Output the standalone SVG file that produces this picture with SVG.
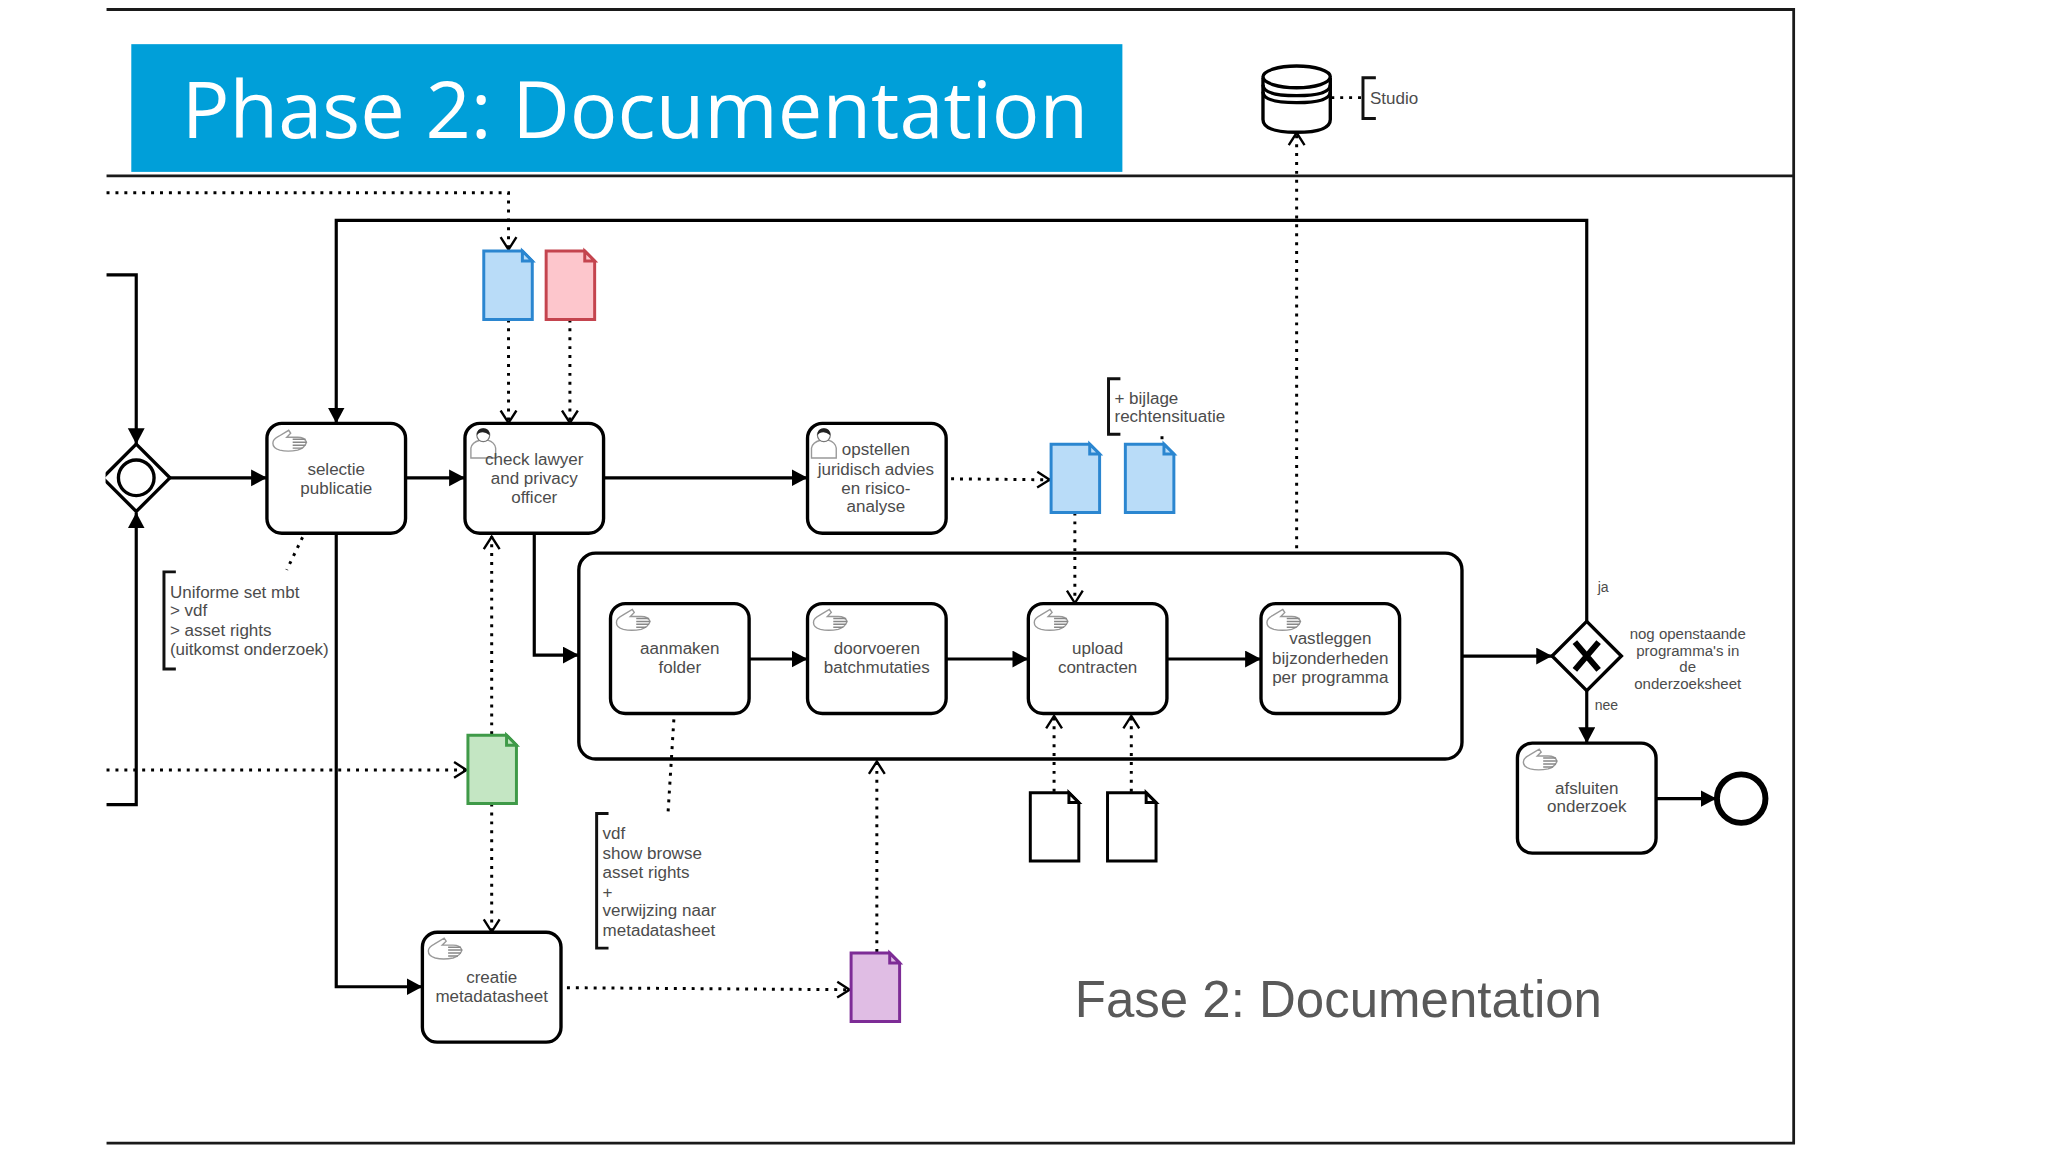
<svg xmlns="http://www.w3.org/2000/svg" width="2048" height="1152" viewBox="0 0 2048 1152">
<style>
text{font-family:"Liberation Sans",Arial,sans-serif;font-size:17.2px;fill:#4c4c4c}
.c{text-anchor:middle}
.task{fill:#fff;stroke:#000;stroke-width:3.4}
.flow{fill:none;stroke:#000;stroke-width:3.2;marker-end:url(#solid)}
.dot{fill:none;stroke:#000;stroke-width:3;stroke-dasharray:3 6}
.open{marker-end:url(#open)}
.frame{fill:none;stroke:#1a1a1a;stroke-width:2.8}
.br{fill:none;stroke:#111;stroke-width:3}
.ico{fill:#fff;stroke:#999;stroke-width:1.4}
.doc{stroke-width:3}
.blue{fill:#b9dcf8;stroke:#2b86d0}
.red{fill:#fdc6cc;stroke:#c4444e}
.green{fill:#c4e6c3;stroke:#3f9a48}
.white{fill:#fff;stroke:#000}
.purple{fill:#e0bde4;stroke:#7d2c96}
.small{font-size:14.2px}
.gw{font-size:15.2px}
</style>
<defs>
<marker id="solid" markerUnits="userSpaceOnUse" markerWidth="18" markerHeight="18" refX="16" refY="8.500" orient="auto"><path d="M0 0L16 8.500L0 17Z" fill="#000"/></marker>
<marker id="open" markerUnits="userSpaceOnUse" markerWidth="18" markerHeight="20" refX="14" refY="9.500" orient="auto"><path d="M1 1.500L13.500 9.500L1 17.500" fill="none" stroke="#000" stroke-width="2.400"/></marker>
<g id="hand"><path class="ico" d="M1 14Q1 10 7 7L17 1L19 4L15 8H26Q33 8 35 13Q33 19 26 21Q16 23 8 21Q1 19 1 14Z"/><path d="M21 10H34M21 13H35M21 16H34M21 19H31" stroke="#888" stroke-width="1.500"/></g>
<g id="person"><path class="ico" d="M1 31V21Q2 15 10 13H18Q25 15 26 21V31Z"/><circle cx="13.500" cy="8" r="6.500" fill="#fff" stroke="#777" stroke-width="1.200"/><path d="M7 8Q7 1 13.500 1Q20 1 20 8Q16 5 13 5Q9 5 7 8Z" fill="#222"/></g>
<g id="d"><path d="M1 1H40L50 11V70H1Z"/><path d="M40 1V11H50Z"/></g>
</defs>

<g id="diagram" transform="translate(.6 .6) scale(.9901)">
<g id="frame">
<path class="frame" d="M107 9H1811V1154H107"/>
<path class="frame" d="M107 177H1811"/>
</g>

<g id="title">
<rect x="132" y="44" width="1001" height="129" fill="#009fd9"/>
<text x="183" y="139" style="font-family:'Open Sans','Noto Sans',sans-serif;font-size:80.2px;fill:#fff">Phase 2: Documentation</text>
</g>

<g id="subprocess"><rect class="task" x="584" y="558" width="892" height="208" rx="17"/></g>

<g id="connectors">
<path class="flow" d="M1602 627V222H339V427"/>
<path class="flow" d="M107 277H137V448"/>
<path class="flow" d="M107 812H137V517"/>
<path class="flow" d="M171 482H269"/>
<path class="flow" d="M409 482H469"/>
<path class="flow" d="M609 482H815"/>
<path class="flow" d="M539 538V661H584"/>
<path class="flow" d="M339 538V996H426"/>
<path class="flow" d="M756 665H815"/>
<path class="flow" d="M955 665H1038"/>
<path class="flow" d="M1178 665H1273"/>
<path class="flow" d="M1476 662H1567"/>
<path class="flow" d="M1602 697V750"/>
<path class="flow" d="M1672 806H1733"/>
<path class="dot open" d="M107 194H513V252"/>
<path class="dot open" d="M513 322V427"/>
<path class="dot open" d="M575 322V427"/>
<path class="dot open" d="M496 741V541"/>
<path class="dot open" d="M496 811V941"/>
<path class="dot open" d="M107 777H471"/>
<path class="dot open" d="M960 483L1060 484"/>
<path class="dot open" d="M1085 517V609"/>
<path class="dot open" d="M1064 799V722"/>
<path class="dot open" d="M1142 799V722"/>
<path class="dot open" d="M885 961V768"/>
<path class="dot open" d="M572 997L858 999"/>
<path class="dot open" d="M1309 553V133"/>
<path class="dot" d="M1344 98H1375"/>
<path class="dot" d="M305 542L289 575"/>
<path class="dot" d="M680 726L674 822"/>
<path class="dot" d="M1173 440V447"/>
</g>

<g id="gateway-start">
<path d="M137 448L171 482L137 516L103 482Z" fill="#fff" stroke="#000" stroke-width="3.400"/>
<circle cx="137" cy="482" r="18" fill="#fff" stroke="#000" stroke-width="3.400"/>
</g>
<g id="gateway-xor">
<path d="M1602 627L1637 662L1602 697L1567 662Z" fill="#fff" stroke="#000" stroke-width="3.400"/>
<path d="M1590 648L1614 676M1614 648L1590 676" stroke="#000" stroke-width="6" fill="none"/>
</g>
<g id="end"><circle cx="1758" cy="806" r="24.500" fill="#fff" stroke="#000" stroke-width="6"/></g>
<rect id="crop" x="0" y="0" width="106" height="1164" fill="#fff"/>

<g id="task-selectie"><rect class="task" x="269" y="427" width="140" height="111" rx="15"/><use href="#hand" x="274" y="433"/><text class="c" x="339" y="479">selectie</text><text class="c" x="339" y="498">publicatie</text></g>
<g id="task-check"><rect class="task" x="469" y="427" width="140" height="111" rx="15"/><use href="#person" x="474" y="431"/><text class="c" x="539" y="469">check lawyer</text><text class="c" x="539" y="488">and privacy</text><text class="c" x="539" y="507">officer</text></g>
<g id="task-opstellen"><rect class="task" x="815" y="427" width="140" height="111" rx="15"/><use href="#person" x="818" y="431"/><text class="c" x="884" y="459">opstellen</text><text class="c" x="884" y="479">juridisch advies</text><text class="c" x="884" y="498">en risico-</text><text class="c" x="884" y="517">analyse</text></g>
<g id="task-aanmaken"><rect class="task" x="616" y="609" width="140" height="111" rx="15"/><use href="#hand" x="621" y="614"/><text class="c" x="686" y="660">aanmaken</text><text class="c" x="686" y="679">folder</text></g>
<g id="task-doorvoeren"><rect class="task" x="815" y="609" width="140" height="111" rx="15"/><use href="#hand" x="820" y="614"/><text class="c" x="885" y="660">doorvoeren</text><text class="c" x="885" y="679">batchmutaties</text></g>
<g id="task-upload"><rect class="task" x="1038" y="609" width="140" height="111" rx="15"/><use href="#hand" x="1043" y="614"/><text class="c" x="1108" y="660">upload</text><text class="c" x="1108" y="679">contracten</text></g>
<g id="task-vastleggen"><rect class="task" x="1273" y="609" width="140" height="111" rx="15"/><use href="#hand" x="1278" y="614"/><text class="c" x="1343" y="650">vastleggen</text><text class="c" x="1343" y="670">bijzonderheden</text><text class="c" x="1343" y="689">per programma</text></g>
<g id="task-afsluiten"><rect class="task" x="1532" y="750" width="140" height="111" rx="15"/><use href="#hand" x="1537" y="755"/><text class="c" x="1602" y="801">afsluiten</text><text class="c" x="1602" y="820">onderzoek</text></g>
<g id="task-creatie"><rect class="task" x="426" y="941" width="140" height="111" rx="15"/><use href="#hand" x="431" y="946"/><text class="c" x="496" y="992">creatie</text><text class="c" x="496" y="1011">metadatasheet</text></g>

<g id="doc-blue-1"><use href="#d" x="487" y="252" class="doc blue"/></g>
<g id="doc-red"><use href="#d" x="550" y="252" class="doc red"/></g>
<g id="doc-blue-2"><use href="#d" x="1060" y="447" class="doc blue"/></g>
<g id="doc-blue-3"><use href="#d" x="1135" y="447" class="doc blue"/></g>
<g id="doc-green"><use href="#d" x="471" y="741" class="doc green"/></g>
<g id="doc-white-1"><use href="#d" x="1039" y="799" class="doc white"/></g>
<g id="doc-white-2"><use href="#d" x="1117" y="799" class="doc white"/></g>
<g id="doc-purple"><use href="#d" x="858" y="961" class="doc purple"/></g>

<g id="store" fill="#fff" stroke="#000" stroke-width="3.400">
<path d="M1275 78V120Q1275 133 1309 133Q1343 133 1343 120V78"/>
<ellipse cx="1309" cy="77" rx="34" ry="11"/>
<path d="M1275 85Q1275 96 1309 96Q1343 96 1343 85M1275 92Q1275 103 1309 103Q1343 103 1343 92" fill="none"/>
</g>

<g id="note-studio"><path class="br" d="M1389 78H1376V119H1389"/><text x="1383" y="104">Studio</text></g>
<g id="note-uniforme"><path class="br" d="M177 577H165V675H177"/><text x="171" y="603">Uniforme set mbt</text><text x="171" y="622">&gt; vdf</text><text x="171" y="642">&gt; asset rights</text><text x="171" y="661">(uitkomst onderzoek)</text></g>
<g id="note-vdf"><path class="br" d="M614 821H602V957H614"/><text x="608" y="847">vdf</text><text x="608" y="867">show browse</text><text x="608" y="886">asset rights</text><text x="608" y="906">+</text><text x="608" y="925">verwijzing naar</text><text x="608" y="945">metadatasheet</text></g>
<g id="note-bijlage"><path class="br" d="M1131 382H1119V438H1131"/><text x="1125" y="407">+ bijlage</text><text x="1125" y="426">rechtensituatie</text></g>

<g id="labels">
<text class="small" x="1613" y="597">ja</text>
<text class="small" x="1610" y="717">nee</text>
<text class="c gw" x="1704" y="645">nog openstaande</text><text class="c gw" x="1704" y="662">programma's in</text><text class="c gw" x="1704" y="678">de</text><text class="c gw" x="1704" y="695">onderzoeksheet</text>
<text x="1085" y="1027" style="font-size:51.500px;fill:#595959">Fase 2: Documentation</text>
</g>
</g>
</svg>
